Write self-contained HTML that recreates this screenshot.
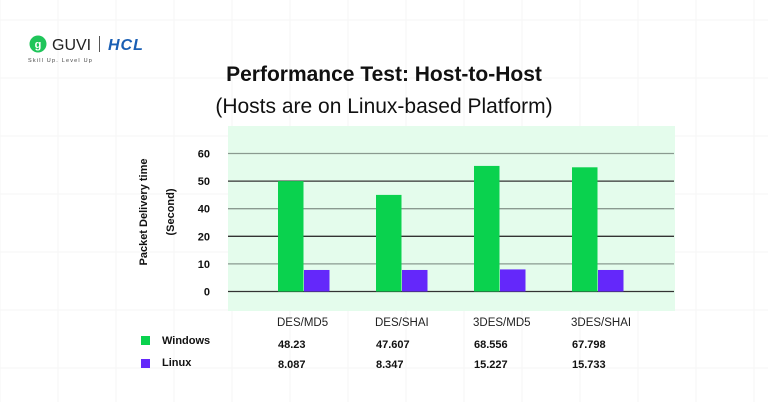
<!DOCTYPE html>
<html><head><meta charset="utf-8"><style>
html,body{margin:0;padding:0;background:#fff}
svg{display:block;font-family:"Liberation Sans",sans-serif}
</style></head><body>
<svg width="768" height="402" viewBox="0 0 768 402" xmlns="http://www.w3.org/2000/svg">
<g id="bggrid" stroke="#f6f6f6" stroke-width="1"></g>
<g>
<circle cx="38" cy="44" r="8.5" fill="#1fc55a"/>
<text x="38" y="48" font-size="11" font-weight="bold" fill="#fff" text-anchor="middle">g</text>
<text x="52" y="50" font-size="16" fill="#222">GUVI</text>
<rect x="99" y="36" width="1" height="16" fill="#555"/>
<text x="108" y="50" font-size="16" font-weight="bold" font-style="italic" fill="#1a5fb4" letter-spacing="1">HCL</text>
<text x="28" y="62" font-size="5.5" fill="#444" letter-spacing="1.2">Skill Up. Level Up</text>
</g>
<text x="384" y="81" font-size="21" font-weight="bold" fill="#111" text-anchor="middle">Performance Test: Host-to-Host</text>
<text x="384" y="113" font-size="21" fill="#111" text-anchor="middle">(Hosts are on Linux-based Platform)</text>
<rect x="228" y="126" width="447" height="185" fill="#e4fcec"/>
<g id="grid"></g>
<g id="yticks"></g>
<text transform="translate(147,212) rotate(-90)" font-size="11" font-weight="bold" fill="#111" text-anchor="middle">Packet Delivery time</text>
<text transform="translate(174,212) rotate(-90)" font-size="11" font-weight="bold" fill="#111" text-anchor="middle">(Second)</text>
<g id="bars"></g>
<g id="table"></g>
<rect x="141" y="336" width="9" height="9" fill="#0ad24e"/>
<text x="162" y="344" font-size="11" font-weight="bold" fill="#111">Windows</text>
<rect x="141" y="359" width="9" height="9" fill="#6428fa"/>
<text x="162" y="366" font-size="11" font-weight="bold" fill="#111">Linux</text>
</svg>
<script>
const categories=["DES/MD5","DES/SHAI","3DES/MD5","3DES/SHAI"];
const winVals=[40,35,45.5,45];
const linVals=[7.8,7.8,8,7.8];
const winLabels=["48.23","47.607","68.556","67.798"];
const linLabels=["8.087","8.347","15.227","15.733"];
const tickVals=[0,10,20,30,40,50];
const tickLabels=["0","10","20","40","50","60"];
const NS="http://www.w3.org/2000/svg";
function mk(t,a,p,txt){const e=document.createElementNS(NS,t);for(const k in a)e.setAttribute(k,a[k]);if(txt!=null)e.textContent=txt;p.appendChild(e);return e;}
const y0=291.5,pxPer=2.76;
function y(v){return y0-v*pxPer;}
const bandStart=254.5,step=98,barW=25.5;
function xc(i){return bandStart+step*i+step/2;}
const bg=document.getElementById('bggrid');
for(let gx=0;gx<768;gx+=58){const l=mk('line',{x1:gx,y1:0,x2:gx,y2:402},bg);}
for(let gy=20;gy<402;gy+=58){const l=mk('line',{x1:0,y1:gy,x2:768,y2:gy},bg);}
const grid=document.getElementById('grid'),yt=document.getElementById('yticks');
tickVals.forEach((v,i)=>{
const l=mk('line',{x1:228,x2:674,y1:y(v),y2:y(v),stroke:i%2===0?'#333':'#8a9a90','stroke-width':1.3},grid);


const t=mk('text',{x:210,y:y(v)+4,'font-size':11,'font-weight':'bold',fill:'#111','text-anchor':'end'},yt,tickLabels[i]);


});
const bars=document.getElementById('bars'),tb=document.getElementById('table');
categories.forEach((c,i)=>{
const cx=xc(i);
const w=mk('rect',{x:cx-barW,y:y(winVals[i]),width:barW,height:y0-y(winVals[i]),fill:'#0ad24e'},bars);


const l=mk('rect',{x:cx+0.5,y:y(linVals[i]),width:barW,height:y0-y(linVals[i]),fill:'#6428fa'},bars);


const t=mk('text',{x:cx-barW-1,y:326,'font-size':11.5,fill:'#222'},tb,c);


const a=mk('text',{x:cx-barW,y:348,'font-size':11,'font-weight':'bold',fill:'#111'},tb,winLabels[i]);


const b=mk('text',{x:cx-barW,y:368,'font-size':11,'font-weight':'bold',fill:'#111'},tb,linLabels[i]);


});
</script>
</body></html>
